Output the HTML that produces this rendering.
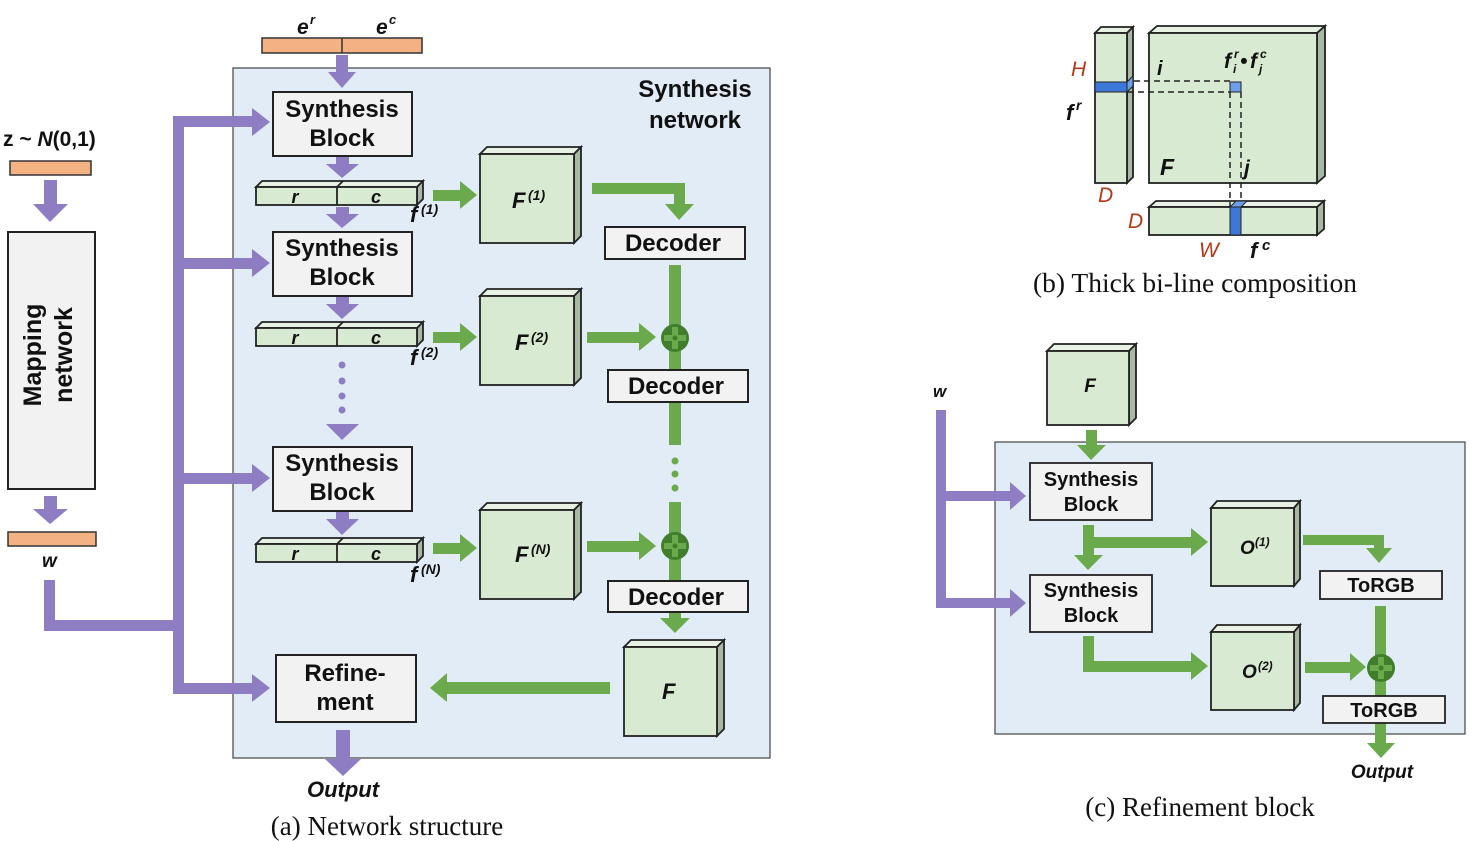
<!DOCTYPE html>
<html><head><meta charset="utf-8"><style>
html,body{margin:0;padding:0;background:#fff;}
svg{display:block;}
.b{font-family:"Liberation Sans",sans-serif;font-weight:bold;fill:#111;}
.bi{font-family:"Liberation Sans",sans-serif;font-weight:bold;font-style:italic;fill:#111;}
.s{font-family:"Liberation Serif",serif;fill:#111;}
.rd{font-family:"Liberation Sans",sans-serif;font-style:italic;fill:#b03a1a;}
</style></head><body>
<svg width="1470" height="841" viewBox="0 0 1470 841" xmlns="http://www.w3.org/2000/svg">
<defs>
<g id="plus"><circle r="14" fill="#3f7f2c"/><rect x="-3" y="-11" width="6" height="22" fill="#6aaa4c"/><rect x="-11" y="-3" width="22" height="6" fill="#6aaa4c"/><circle r="2.5" fill="#3f7f2c"/></g>
</defs>
<!-- backgrounds -->
<rect x="233" y="68" width="537" height="690" fill="#e2ecf7" stroke="#444" stroke-width="1.2"/>
<rect x="995" y="442" width="470" height="292" fill="#e2ecf7" stroke="#444" stroke-width="1.2"/>
<text class="b" x="695" y="97" font-size="24" text-anchor="middle">Synthesis</text>
<text class="b" x="695" y="128" font-size="24" text-anchor="middle">network</text>

<!-- top orange bar -->
<rect x="262" y="38" width="160" height="15" fill="#f4b183" stroke="#333" stroke-width="1.5"/>
<line x1="342" y1="38" x2="342" y2="53" stroke="#333" stroke-width="1.5"/>
<text class="bi" x="297" y="34" font-size="21">e</text><text class="bi" x="310" y="24" font-size="13">r</text>
<text class="bi" x="376" y="34" font-size="21">e</text><text class="bi" x="389" y="24" font-size="13">c</text>

<!-- purple -->
<g fill="#8f7dc4">
<rect x="336" y="55" width="12" height="18"/><polygon points="328,72 356,72 342,88"/>
<rect x="44" y="180" width="13" height="25"/><polygon points="33,204 68,204 50,222"/>
<rect x="44" y="496" width="13" height="14"/><polygon points="33,509 68,509 50,524"/>
<rect x="44" y="580" width="11" height="51"/>
<rect x="44" y="620" width="140" height="11"/>
<rect x="173" y="116" width="11" height="578"/>
<rect x="173" y="116" width="80" height="11"/><polygon points="252,108 252,136 270,122"/>
<rect x="173" y="258" width="80" height="11"/><polygon points="252,249 252,277 270,263"/>
<rect x="173" y="473" width="80" height="11"/><polygon points="252,464 252,492 270,478"/>
<rect x="173" y="683" width="80" height="11"/><polygon points="252,674 252,702 270,688"/>
<rect x="336" y="157" width="13" height="8"/><polygon points="326,164 359,164 342,178"/>
<rect x="336" y="207" width="13" height="8"/><polygon points="326,214 359,214 342,228"/>
<rect x="336" y="297" width="13" height="8"/><polygon points="326,304 359,304 342,319"/>
<circle cx="342" cy="365" r="3.5"/><circle cx="342" cy="381" r="3.5"/><circle cx="342" cy="396" r="3.5"/><circle cx="342" cy="410" r="3.5"/>
<polygon points="326,424 359,424 342,440"/>
<rect x="336" y="512" width="13" height="8"/><polygon points="326,519 359,519 342,535"/>
<rect x="336" y="730" width="14" height="30"/><polygon points="325,759 361,759 343,776"/>
<rect x="936" y="410" width="10" height="198"/>
<rect x="936" y="491" width="75" height="10"/><polygon points="1010,482 1010,510 1026,496"/>
<rect x="936" y="598" width="75" height="10"/><polygon points="1010,589 1010,617 1026,603"/>
</g>

<!-- left column -->
<text class="b" x="3" y="146" font-size="21">z ~ <tspan font-style="italic">N</tspan>(0,1)</text>
<rect x="10" y="161" width="81" height="14" fill="#f4b183" stroke="#333" stroke-width="1.5"/>
<rect x="8" y="232" width="87" height="257" fill="#f2f2f2" stroke="#222" stroke-width="2"/>
<text class="b" font-size="25" text-anchor="middle" transform="translate(41,355) rotate(-90)">Mapping</text>
<text class="b" font-size="25" text-anchor="middle" transform="translate(72,355) rotate(-90)">network</text>
<rect x="8" y="532" width="88" height="14" fill="#f4b183" stroke="#333" stroke-width="1.5"/>
<text class="bi" x="42" y="567" font-size="19">w</text>

<!-- green arrows a -->
<g fill="#6aaa4c">
<rect x="433" y="190" width="28" height="11"/><polygon points="460,181 460,209 477,195"/>
<rect x="433" y="332" width="28" height="11"/><polygon points="460,323 460,351 477,337"/>
<rect x="433" y="543" width="28" height="11"/><polygon points="460,534 460,562 477,548"/>
<rect x="592" y="183" width="93" height="11"/><rect x="674" y="183" width="11" height="22"/><polygon points="665,204 694,204 679,220"/>
<rect x="669" y="265" width="12" height="180"/>
<circle cx="675" cy="461" r="3.5"/><circle cx="675" cy="474" r="3.5"/><circle cx="675" cy="488" r="3.5"/>
<rect x="669" y="502" width="12" height="78"/>
<rect x="587" y="332" width="53" height="11"/><polygon points="639,323 639,351 656,337"/>
<rect x="587" y="541" width="53" height="11"/><polygon points="639,532 639,560 656,546"/>
<rect x="669" y="612" width="12" height="8"/><polygon points="660,618 690,618 675,633"/>
<rect x="446" y="682" width="164" height="12"/><polygon points="447,673 447,702 430,688"/>
</g>
<use href="#plus" x="675" y="338"/>
<use href="#plus" x="675" y="546"/>

<!-- boxes -->
<g stroke="#222" stroke-width="2" fill="#f2f2f2">
<rect x="273" y="92" width="139" height="64"/>
<rect x="273" y="232" width="139" height="64"/>
<rect x="273" y="447" width="139" height="64"/>
<rect x="276" y="655" width="140" height="67"/>
<rect x="605" y="227" width="140" height="32"/>
<rect x="608" y="370" width="140" height="32"/>
<rect x="608" y="581" width="140" height="31"/>
</g>
<g class="b" font-size="24" text-anchor="middle">
<text x="342" y="117">Synthesis</text><text x="342" y="146">Block</text>
<text x="342" y="256">Synthesis</text><text x="342" y="285">Block</text>
<text x="342" y="471">Synthesis</text><text x="342" y="500">Block</text>
<text x="345" y="681">Refine-</text><text x="345" y="710">ment</text>
<text x="673" y="251">Decoder</text>
<text x="676" y="394">Decoder</text>
<text x="676" y="605">Decoder</text>
</g>

<!-- feature bars -->
<g stroke="#222" stroke-width="1.8">
<g id="bar1">
<polygon points="256,187 262,181 423,181 417,187" fill="#e8f2e4"/>
<polygon points="417,187 423,181 423,199 417,205" fill="#a9b8a5"/>
<rect x="256" y="187" width="161" height="18" fill="#d9ead3"/>
<line x1="337" y1="187" x2="337" y2="205"/><line x1="337" y1="187" x2="343" y2="181"/>
</g>
<use href="#bar1" y="141"/>
<use href="#bar1" y="357"/>
</g>
<g class="bi" font-size="18" text-anchor="middle">
<text x="295" y="203">r</text><text x="376" y="203">c</text>
<text x="295" y="344">r</text><text x="376" y="344">c</text>
<text x="295" y="560">r</text><text x="376" y="560">c</text>
</g>
<g class="bi">
<text x="410" y="222" font-size="22">f</text><text x="421" y="214" font-size="14">(1)</text>
<text x="410" y="365" font-size="22">f</text><text x="421" y="357" font-size="14">(2)</text>
<text x="410" y="582" font-size="22">f</text><text x="421" y="574" font-size="14">(N)</text>
</g>

<!-- cubes -->
<g stroke="#222" stroke-width="1.8">
<g id="cube1">
<polygon points="480,154 487,147 581,147 574,154" fill="#e8f2e4"/>
<polygon points="574,154 581,147 581,236 574,243" fill="#a9b8a5"/>
<rect x="480" y="154" width="94" height="89" fill="#d9ead3"/>
</g>
<use href="#cube1" y="142"/>
<use href="#cube1" y="356"/>
<polygon points="624,647 631,640 724,640 717,647" fill="#e8f2e4"/>
<polygon points="717,647 724,640 724,729 717,736" fill="#a9b8a5"/>
<rect x="624" y="647" width="93" height="89" fill="#d9ead3"/>
</g>
<g class="bi">
<text x="512" y="208" font-size="22">F</text><text x="528" y="200" font-size="14">(1)</text>
<text x="515" y="350" font-size="22">F</text><text x="531" y="342" font-size="14">(2)</text>
<text x="515" y="562" font-size="22">F</text><text x="531" y="554" font-size="14">(N)</text>
<text x="662" y="699" font-size="22">F</text>
</g>

<text class="bi" x="343" y="797" font-size="22" text-anchor="middle">Output</text>
<text class="s" x="387" y="835" font-size="27" text-anchor="middle">(a) Network structure</text>

<!-- panel b -->
<g stroke="#222" stroke-width="1.8">
<polygon points="1095,33 1101,27 1133,27 1127,33" fill="#e8f2e4"/>
<polygon points="1127,33 1133,27 1133,177 1127,183" fill="#a9b8a5"/>
<rect x="1095" y="33" width="32" height="150" fill="#d9ead3"/>
<polygon points="1149,33 1157,26 1325,26 1317,33" fill="#e8f2e4"/>
<polygon points="1317,33 1325,26 1325,176 1317,183" fill="#a9b8a5"/>
<rect x="1149" y="33" width="168" height="150" fill="#d9ead3"/>
<polygon points="1149,207 1156,201 1324,201 1317,207" fill="#e8f2e4"/>
<polygon points="1317,207 1324,201 1324,229 1317,235" fill="#a9b8a5"/>
<rect x="1149" y="207" width="168" height="28" fill="#d9ead3"/>
</g>
<rect x="1095" y="82" width="32" height="10" fill="#3c78d8" stroke="#222" stroke-width="1"/>
<polygon points="1127,82 1133,76 1133,86 1127,92" fill="#6d9eeb" stroke="#222" stroke-width="1"/>
<rect x="1230" y="82" width="11" height="10" fill="#6d9eeb" stroke="#222" stroke-width="1"/>
<rect x="1230" y="207" width="11" height="28" fill="#3c78d8" stroke="#222" stroke-width="1"/>
<polygon points="1230,207 1236,201 1247,201 1241,207" fill="#6d9eeb" stroke="#222" stroke-width="1"/>
<g stroke="#222" stroke-width="1.5" stroke-dasharray="6,4" fill="none">
<line x1="1134" y1="81" x2="1230" y2="81"/>
<line x1="1128" y1="92" x2="1230" y2="92"/>
<line x1="1230" y1="92" x2="1230" y2="206"/>
<line x1="1241" y1="92" x2="1241" y2="200"/>
</g>
<text class="rd" x="1071" y="76" font-size="21">H</text>
<text class="rd" x="1098" y="202" font-size="21">D</text>
<text class="rd" x="1128" y="228" font-size="21">D</text>
<text class="rd" x="1199" y="257" font-size="21">W</text>
<g class="bi">
<text x="1157" y="75" font-size="20">i</text>
<text x="1066" y="120" font-size="22">f</text><text x="1076" y="110" font-size="14">r</text>
<text x="1224" y="68" font-size="21">f</text><text x="1234" y="58" font-size="12">r</text><text x="1233" y="73" font-size="12">i</text>
<text x="1240" y="68" font-size="21">•</text>
<text x="1250" y="68" font-size="21">f</text><text x="1260" y="58" font-size="12">c</text><text x="1259" y="73" font-size="12">j</text>
<text x="1160" y="175" font-size="23">F</text>
<text x="1244" y="175" font-size="21">j</text>
<text x="1250" y="258" font-size="22">f</text><text x="1262" y="250" font-size="15">c</text>
</g>
<text class="s" x="1195" y="292" font-size="27.5" text-anchor="middle">(b) Thick bi-line composition</text>

<!-- panel c -->
<text class="bi" x="933" y="397" font-size="17">w</text>
<g fill="#6aaa4c">
<rect x="1086" y="430" width="11" height="16"/><polygon points="1077,445 1106,445 1091,460"/>
<rect x="1083" y="525" width="11" height="30"/><polygon points="1074,555 1103,555 1088,570"/>
<rect x="1083" y="537" width="110" height="11"/><polygon points="1191,528 1191,556 1208,542"/>
<rect x="1083" y="636" width="11" height="36"/>
<rect x="1083" y="661" width="110" height="11"/><polygon points="1191,652 1191,680 1208,666"/>
<rect x="1303" y="535" width="79" height="10"/><rect x="1374" y="535" width="10" height="14"/><polygon points="1366,548 1392,548 1379,563"/>
<rect x="1375" y="606" width="11" height="90"/>
<rect x="1305" y="662" width="46" height="11"/><polygon points="1350,653 1350,681 1366,667"/>
<rect x="1375" y="723" width="11" height="22"/><polygon points="1367,743 1395,743 1381,758"/>
</g>
<use href="#plus" x="1381" y="668"/>
<g stroke="#222" stroke-width="1.8">
<polygon points="1047,351 1054,344 1136,344 1129,351" fill="#e8f2e4"/>
<polygon points="1129,351 1136,344 1136,418 1129,425" fill="#a9b8a5"/>
<rect x="1047" y="351" width="82" height="74" fill="#d9ead3"/>
<g id="o1">
<polygon points="1211,508 1217,501 1300,501 1294,508" fill="#e8f2e4"/>
<polygon points="1294,508 1300,501 1300,579 1294,586" fill="#a9b8a5"/>
<rect x="1211" y="508" width="83" height="78" fill="#d9ead3"/>
</g>
<use href="#o1" y="124"/>
<g fill="#f2f2f2">
<rect x="1030" y="463" width="122" height="57"/>
<rect x="1030" y="575" width="122" height="57"/>
<rect x="1320" y="571" width="122" height="28"/>
<rect x="1323" y="696" width="122" height="27"/>
</g>
</g>
<g class="bi">
<text x="1090" y="392" font-size="19" text-anchor="middle">F</text>
<text x="1240" y="554" font-size="19">O</text><text x="1255" y="546" font-size="12">(1)</text>
<text x="1242" y="678" font-size="19">O</text><text x="1258" y="670" font-size="12">(2)</text>
</g>
<g class="b" font-size="20" text-anchor="middle">
<text x="1091" y="486">Synthesis</text><text x="1091" y="511">Block</text>
<text x="1091" y="597">Synthesis</text><text x="1091" y="622">Block</text>
<text x="1381" y="592">ToRGB</text>
<text x="1384" y="717">ToRGB</text>
</g>
<text class="bi" x="1382" y="778" font-size="19" text-anchor="middle">Output</text>
<text class="s" x="1200" y="816" font-size="27" text-anchor="middle">(c) Refinement block</text>
</svg>
</body></html>
